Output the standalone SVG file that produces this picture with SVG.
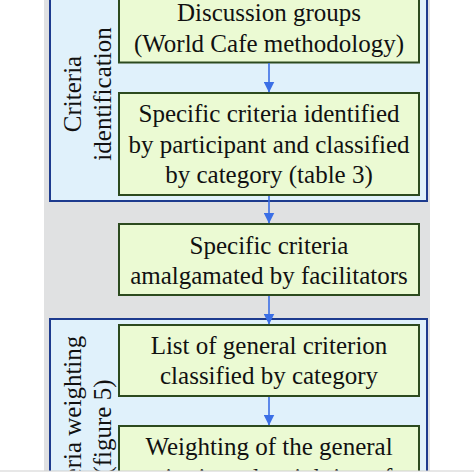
<svg xmlns="http://www.w3.org/2000/svg" width="474" height="474" viewBox="0 0 474 474">
<defs>
<style>
.panel{fill:#e0f1fb;stroke:#1d3b8e;stroke-width:2}
.box{fill:#ebfad3;stroke:#2c4a1e;stroke-width:2}
.t{font-family:"Liberation Serif","Times New Roman",serif;font-size:25px;fill:#111;text-anchor:middle}
.conn{stroke:#3b6fe6;stroke-width:1.6;fill:none}
</style>
<marker id="ah" markerWidth="11" markerHeight="11" refX="10.5" refY="5.5" orient="auto" markerUnits="userSpaceOnUse">
<path d="M0,0 L11,5.5 L0,11 Z" fill="#3b6fe6"/>
</marker>
</defs>
<rect x="0" y="0" width="474" height="474" fill="#ffffff"/>
<rect x="44" y="0" width="386" height="474" fill="#e0e1e2"/>
<g id="panel-identification">
<rect class="panel" x="50" y="-14" width="377" height="215"/>
<text class="t" transform="translate(81,94) rotate(-90)">Criteria</text>
<text class="t" transform="translate(111,94) rotate(-90)">identification</text>
</g>
<g id="panel-weighting">
<rect class="panel" x="50" y="319" width="377" height="200"/>
<text class="t" transform="translate(81,427) rotate(-90)">Criteria weighting</text>
<text class="t" transform="translate(111,427) rotate(-90)">(figure 5)</text>
</g>
<g id="node-discussion">
<rect class="box" x="119" y="-9" width="300" height="71.5"/>
<text class="t" x="269" y="21">Discussion groups</text>
<text class="t" x="269" y="52">(World Cafe methodology)</text>
</g>
<g id="node-specific">
<rect class="box" x="119" y="93" width="300" height="102"/>
<text class="t" x="269" y="122">Specific criteria identified</text>
<text class="t" x="269" y="153">by participant and classified</text>
<text class="t" x="269" y="183">by category (table 3)</text>
</g>
<g id="node-amalgamated">
<rect class="box" x="119" y="224" width="300" height="71"/>
<text class="t" x="269" y="254">Specific criteria</text>
<text class="t" x="269" y="284">amalgamated by facilitators</text>
</g>
<g id="node-list">
<rect class="box" x="119" y="325" width="300" height="71"/>
<text class="t" x="269" y="354">List of general criterion</text>
<text class="t" x="269" y="384">classified by category</text>
</g>
<g id="node-weighting">
<rect class="box" x="119" y="426" width="300" height="80"/>
<text class="t" x="269" y="455">Weighting of the general</text>
<text class="t" x="269" y="486">criteria and weighting of</text>
</g>
<g id="connectors">
<line class="conn" x1="269" y1="63" x2="269" y2="92" marker-end="url(#ah)"/>
<line class="conn" x1="269" y1="196" x2="269" y2="223" marker-end="url(#ah)"/>
<line class="conn" x1="269" y1="296" x2="269" y2="324" marker-end="url(#ah)"/>
<line class="conn" x1="269" y1="397" x2="269" y2="425" marker-end="url(#ah)"/>
</g>
<rect x="0" y="471" width="474" height="3" fill="#ffffff"/>
<line x1="0" y1="471" x2="474" y2="471" stroke="#cfcfcf" stroke-width="1"/>
</svg>
